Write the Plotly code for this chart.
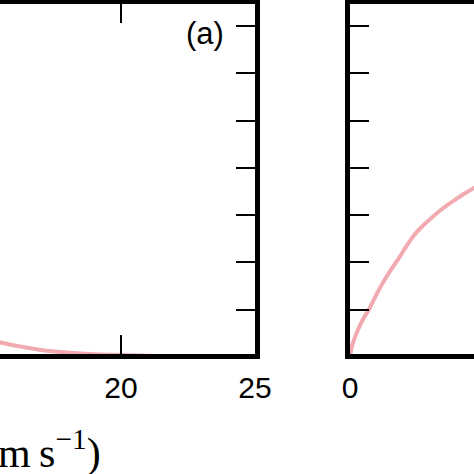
import plotly.graph_objects as go

# Left panel (a): decaying tail of the curve
left_x = [15.0, 15.55, 16.3, 17.0, 17.75, 18.5, 19.2, 20.0, 21.0, 22.0, 23.0, 24.0, 25.0]
left_y = [0.0078, 0.0060, 0.0043, 0.0030, 0.0021, 0.0015, 0.0011, 0.0008, 0.0005, 0.0003, 0.0002, 0.0001, 0.00005]

# Right panel: rising curve
right_x = [0.0, 0.08, 0.18, 0.33, 0.50, 0.70, 0.95, 1.18, 1.50, 1.80, 2.10, 2.39, 2.70, 3.02, 3.33, 3.64, 3.95, 4.23, 4.63, 5.0]
right_y = [0.0, 0.0048, 0.0082, 0.0123, 0.0163, 0.0200, 0.0256, 0.0305, 0.0364, 0.0414, 0.0468, 0.0515, 0.0553, 0.0586, 0.0616, 0.0643, 0.0667, 0.0688, 0.0715, 0.0738]

x_tick_vals = [15, 20, 25]
x_tick_text = ["15", "20", "25"]
right_tick_vals = [0, 5]
right_tick_text = ["0", "5"]

W = 474
H = 474
left_end_px = 255
tick20_px = 121
right_px = 350
top_px = 4
bottom_px = 354
zero_px = 357
tick_step_px = 47.3

px_per_unit = (left_end_px - tick20_px) / 5.0
y_bottom = (zero_px - bottom_px) / tick_step_px * 0.02
y_top = (zero_px - top_px) / tick_step_px * 0.02

curve_color = "rgb(241,171,176)"
font_family = "Liberation Sans, Arial, sans-serif"

fig = go.Figure()
fig.add_trace(go.Scatter(x=left_x, y=left_y, mode="lines",
                         line=dict(color=curve_color, width=4, shape="spline"),
                         xaxis="x", yaxis="y", showlegend=False))
fig.add_trace(go.Scatter(x=right_x, y=right_y, mode="lines",
                         line=dict(color=curve_color, width=4, shape="spline"),
                         xaxis="x2", yaxis="y2", showlegend=False))

common_axis = dict(showgrid=False, zeroline=False, showline=True,
                   linecolor="black", linewidth=5,
                   ticks="inside", ticklen=19, tickwidth=2, tickcolor="black",
                   tickfont=dict(family=font_family, size=30, color="black"))

left_range = [25 - left_end_px / px_per_unit, 25]
right_range = [0, (W - right_px) / px_per_unit]
plot_h = bottom_px - top_px

fig.update_layout(
    width=W, height=H,
    margin=dict(l=0, r=0, t=top_px, b=H - bottom_px, autoexpand=False),
    paper_bgcolor="white", plot_bgcolor="white",
    xaxis=dict(domain=[0, left_end_px / W], range=left_range,
               tickvals=x_tick_vals, ticktext=x_tick_text,
               mirror="ticks", anchor="y", ticklabelstandoff=3,
               **common_axis),
    yaxis=dict(domain=[0, 1], range=[y_bottom, y_top], dtick=0.02, tick0=0,
               side="right", showticklabels=False, anchor="x",
               **common_axis),
    xaxis2=dict(domain=[right_px / W, 1], range=right_range,
                tickvals=right_tick_vals, ticktext=right_tick_text,
                mirror="ticks", anchor="y2", ticklabelstandoff=3,
                **common_axis),
    yaxis2=dict(domain=[0, 1], range=[y_bottom, y_top], dtick=0.02, tick0=0,
                side="left", showticklabels=False, anchor="x2",
                **common_axis),
    annotations=[
        dict(text="(a)", xref="paper", yref="paper",
             x=226 / W, y=(bottom_px - 33) / plot_h, xanchor="right", yanchor="middle",
             showarrow=False, font=dict(family=font_family, size=31, color="black")),
        dict(text="(m\u2009s<sup>\u22121</sup>)", xref="paper", yref="paper",
             x=103 / W, y=(bottom_px - 450) / plot_h, xanchor="right", yanchor="middle",
             showarrow=False,
             font=dict(family="Liberation Serif, DejaVu Serif, serif", size=42, color="black")),
    ],
)

fig.write_html("out.html", config={"displayModeBar": False},
               post_script="document.body.style.margin='0';document.body.style.padding='0';document.body.style.overflow='hidden';")
